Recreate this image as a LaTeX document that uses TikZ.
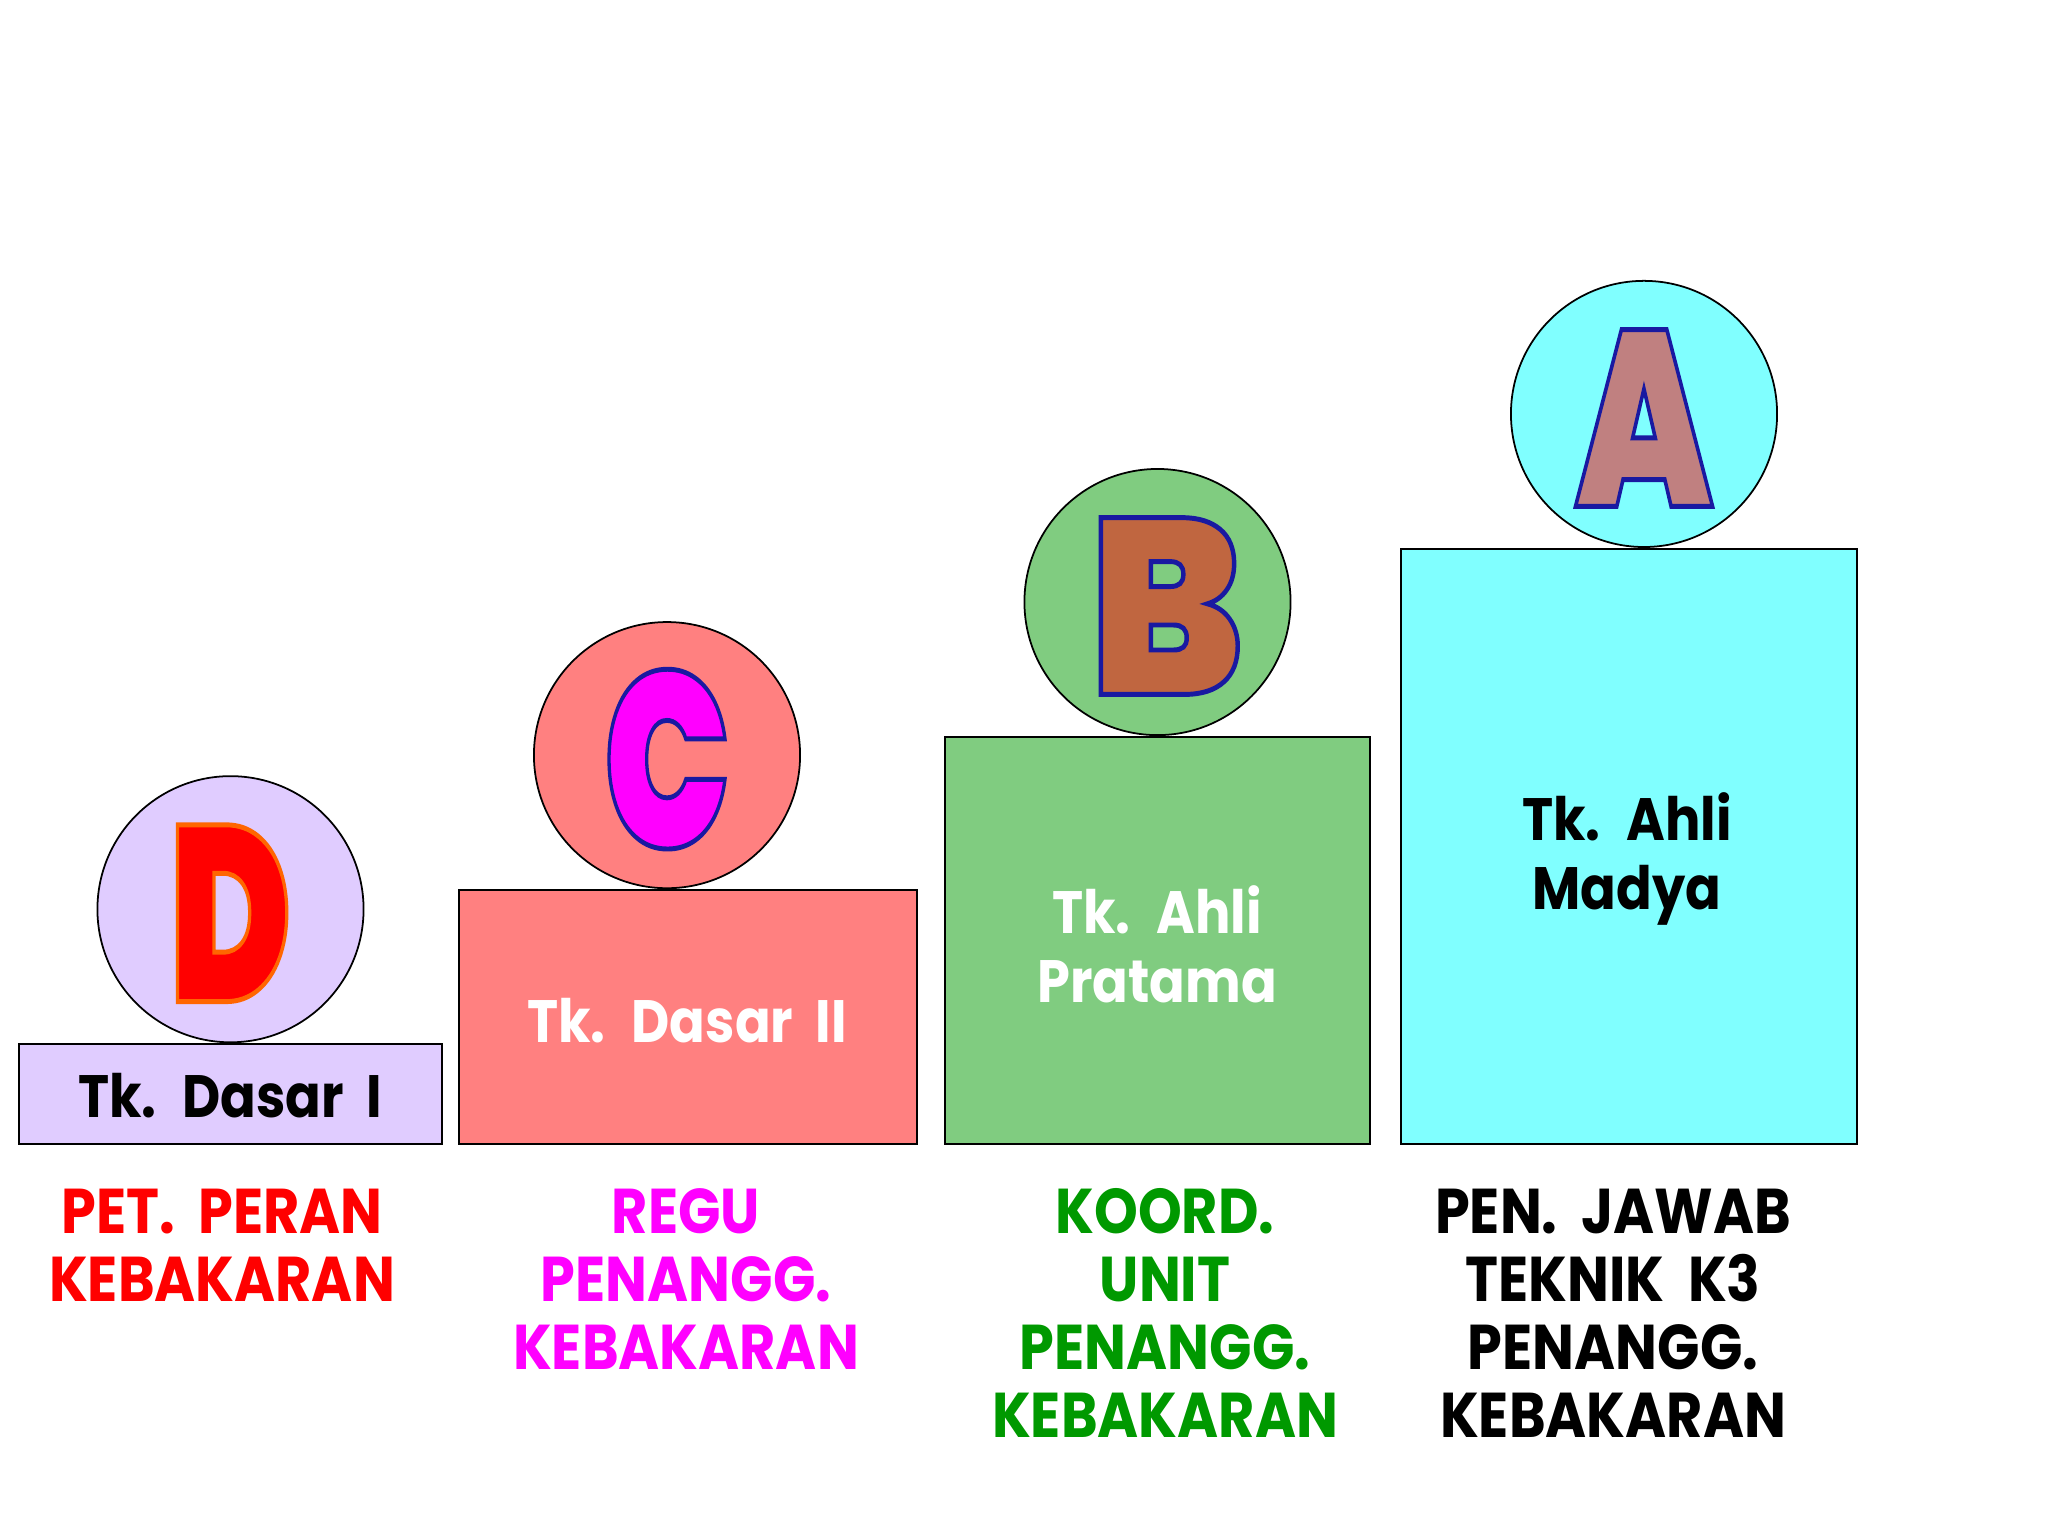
\documentclass[tikz,border=0pt]{standalone}
\usepackage{fontspec}
\usepackage{graphicx}
\usetikzlibrary{positioning}
\setmainfont{Poppins}[FakeStretch=0.88, WordSpace=2]
\IfFontExistsTF{Poppins Black}
  {\newfontfamily\letterfont{Poppins Black}}
  {\newfontfamily\letterfont{DejaVu Sans Bold}}
\definecolor{LevelD}{HTML}{E0CCFF}
\definecolor{LevelC}{HTML}{FF8080}
\definecolor{LevelB}{HTML}{80CC80}
\definecolor{LevelA}{HTML}{80FFFF}
\definecolor{LetterA}{HTML}{C08080}
\definecolor{LetterB}{HTML}{C06640}
\definecolor{Pink}{HTML}{FF00FF}
\definecolor{Red}{HTML}{FF0000}
\definecolor{RoleGreen}{HTML}{009900}
% outlined capital: x-squeeze, stroke colour (rgb), fill colour, letter
\newcommand{\bigletter}[4]{\scalebox{#1}[1]{\color{#3}%
  \special{pdf:literal direct 2 Tr #2 RG 1.4 w}#4\special{pdf:literal direct 0 Tr}}}

\begin{document}
\begin{tikzpicture}[
    x=0.01cm, y=-0.01cm,
    level/.style={rectangle, draw=black, line width=0.5pt, inner sep=0pt, anchor=south west},
    badge/.style={circle, draw=black, line width=0.5pt, minimum size=2.66cm, inner sep=0pt},
    letter/.style={inner sep=0pt, yshift=-0.04cm, font=\letterfont\fontsize{71}{71}\selectfont},
    boxtext/.style={inner sep=0pt, anchor=north, align=center,
                    font=\bfseries\fontsize{17}{19.6}\selectfont},
    role/.style={inner sep=0pt, anchor=north, align=center,
                 font=\bfseries\fontsize{18}{19.35}\selectfont}
]
    \useasboundingbox (0,0) rectangle (2048,1531);

    % Steps
    \node[level, fill=LevelD, minimum width=4.23cm, minimum height=1.00cm] (boxD) at (18,1145) {};
    \node[level, fill=LevelC, minimum width=4.58cm, minimum height=2.54cm] (boxC) at (458,1145) {};
    \node[level, fill=LevelB, minimum width=4.25cm, minimum height=4.07cm] (boxB) at (944,1145) {};
    \node[level, fill=LevelA, minimum width=4.56cm, minimum height=5.95cm] (boxA) at (1400,1145) {};

    % Badges
    \node[badge, fill=LevelD, above=0pt of boxD] (circD) {};
    \node[badge, fill=LevelC, above=0pt of boxC, xshift=-0.21cm] (circC) {};
    \node[badge, fill=LevelB, above=0pt of boxB] (circB) {};
    \node[badge, fill=LevelA, above=0pt of boxA, xshift=0.15cm] (circA) {};

    \node[letter] (letD) at (circD) {\bigletter{0.66}{1 0.4 0}{Red}{D}};
    \node[letter] (letC) at (circC) {\bigletter{0.67}{0.1 0.1 0.63}{Pink}{C}};
    \node[letter, xshift=0.09cm] (letB) at (circB) {\bigletter{0.90}{0.1 0.1 0.63}{LetterB}{B}};
    \node[letter] (letA) at (circA) {\bigletter{0.71}{0.1 0.1 0.63}{LetterA}{A}};

    % Level names
    \node[boxtext, text=black] (nameD) at (230,1073) {Tk. Dasar I};
    \node[boxtext, text=white] (nameC) at (687,998) {Tk. Dasar II};
    \node[boxtext, text=white] (nameB) at (1157,885) {Tk. Ahli\\Pratama};
    \node[boxtext, text=black] (nameA) at (1627,792) {Tk. Ahli\\Madya};

    % Roles
    \node[role, text=Red] (roleD) at (222,1188) {PET. PERAN\\KEBAKARAN};
    \node[role, text=Pink] (roleC) at (686,1188) {REGU\\PENANGG.\\KEBAKARAN};
    \node[role, text=RoleGreen] (roleB) at (1165,1188) {KOORD.\\UNIT\\PENANGG.\\KEBAKARAN};
    \node[role, text=black] (roleA) at (1613,1188) {PEN. JAWAB\\TEKNIK K3\\PENANGG.\\KEBAKARAN};
\end{tikzpicture}
\end{document}
